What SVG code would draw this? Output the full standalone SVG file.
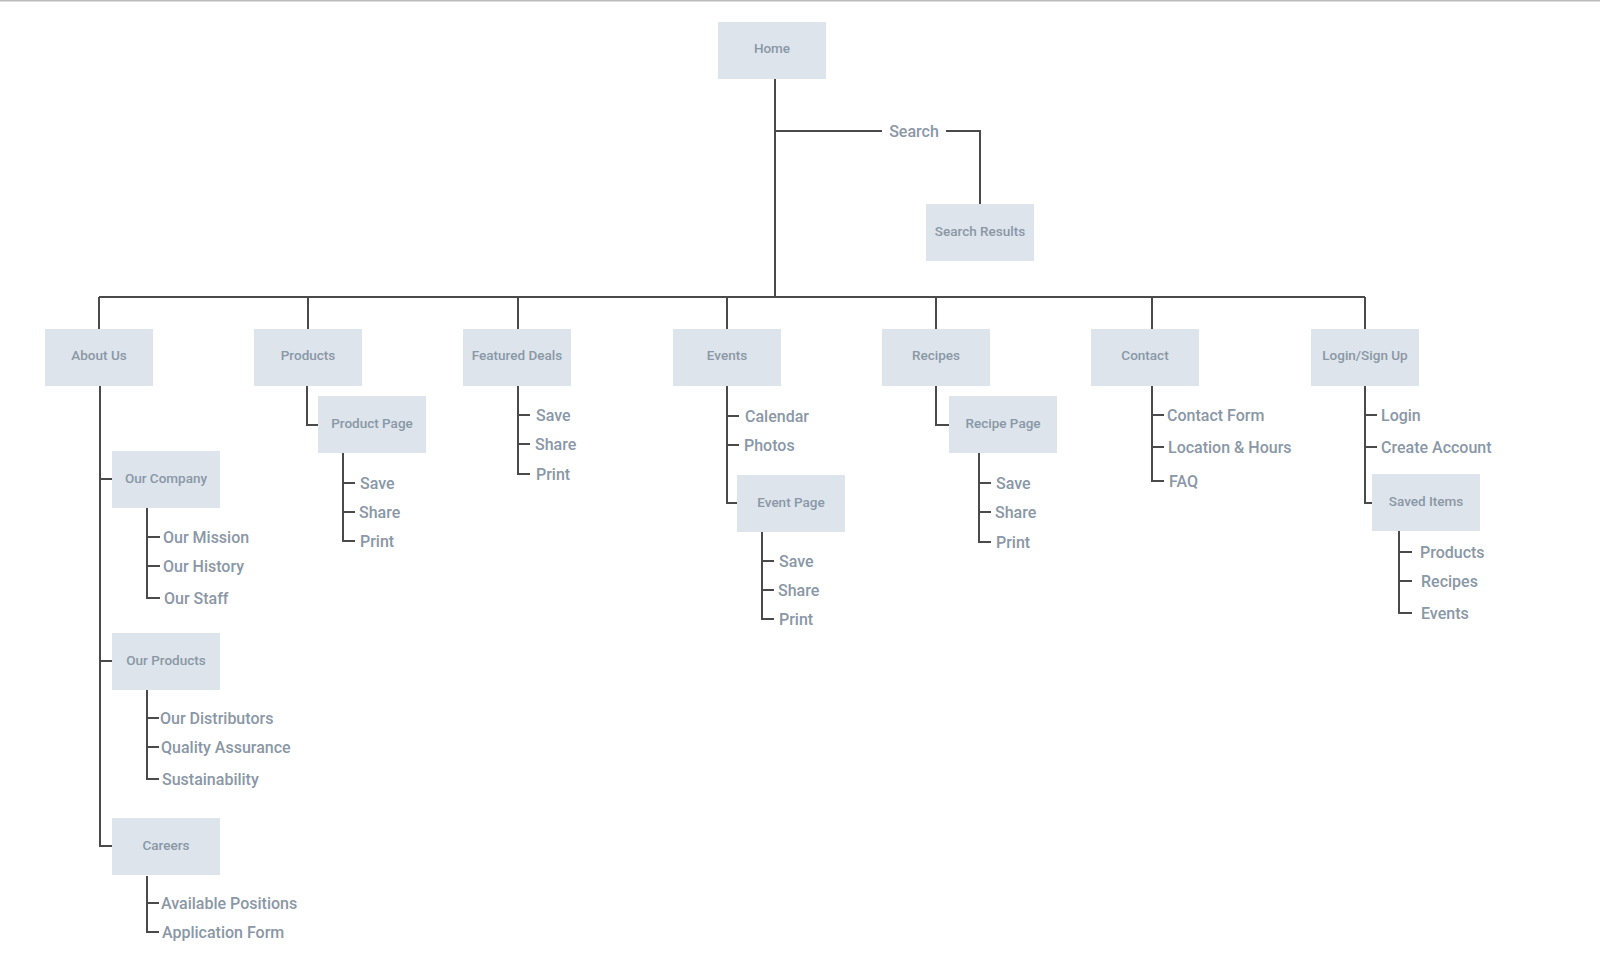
<svg xmlns="http://www.w3.org/2000/svg" width="1600" height="979" viewBox="0 0 1600 979">
<style>
.b{fill:#dde4eb}
.n{font-family:Roboto,"Liberation Sans",sans-serif;font-size:13.5px;font-weight:500;fill:#8a97a6;text-anchor:middle}
.l{font-family:Roboto,"Liberation Sans",sans-serif;font-size:16px;font-weight:500;fill:#8a97a6}
.c{fill:none;stroke:#4a4a4a;stroke-width:2}
</style>
<rect width="1600" height="979" fill="#fff"/>
<line x1="0" y1="0.5" x2="1600" y2="0.5" stroke="#bbb" stroke-width="2"/>
<g id="connectors" class="c">
<path d="M775 79V297M99 297H1365M99 297V329M308 297V329M518 297V329M727 297V329M936 297V329M1152 297V329M1365 297V329"/>
<path d="M775 131H882M946 131H980V204"/>
<path d="M307 386V425H318M343 453V541H355M343 483H355M343 512H355"/>
<path d="M518 386V474H530M518 415H530M518 444H530"/>
<path d="M727 386V503H737M727 416H739M727 445H739M762 532V619H774M762 561H774M762 590H774"/>
<path d="M936 386V425H949M979 453V542H991M979 483H991M979 512H991"/>
<path d="M1152 386V481H1164M1152 415H1164M1152 447H1164"/>
<path d="M1365 386V503H1372M1365 415H1377M1365 447H1377M1399 531V613H1412M1399 552H1412M1399 581H1412"/>
<path d="M100 386V846H112M100 479H112M100 661H112"/>
<path d="M147 508V598H160M147 537H160M147 566H160"/>
<path d="M147 690V779H159M147 718H159M147 747H159"/>
<path d="M147 876V932H159M147 903H159"/>
</g>
<g id="home"><rect class="b" x="718" y="22" width="108" height="57"/><text class="n" x="772" y="53">Home</text></g>
<g id="search"><text class="l" x="914" y="137" text-anchor="middle">Search</text></g>
<g id="searchresults"><rect class="b" x="926" y="204" width="108" height="57"/><text class="n" x="980" y="236">Search Results</text></g>
<g id="aboutus"><rect class="b" x="45" y="329" width="108" height="57"/><text class="n" x="99" y="360">About Us</text></g>
<g id="products"><rect class="b" x="254" y="329" width="108" height="57"/><text class="n" x="308" y="360">Products</text></g>
<g id="featured"><rect class="b" x="463" y="329" width="108" height="57"/><text class="n" x="517" y="360">Featured Deals</text></g>
<g id="events"><rect class="b" x="673" y="329" width="108" height="57"/><text class="n" x="727" y="360">Events</text></g>
<g id="recipes"><rect class="b" x="882" y="329" width="108" height="57"/><text class="n" x="936" y="360">Recipes</text></g>
<g id="contact"><rect class="b" x="1091" y="329" width="108" height="57"/><text class="n" x="1145" y="360">Contact</text></g>
<g id="login"><rect class="b" x="1311" y="329" width="108" height="57"/><text class="n" x="1365" y="360">Login/Sign Up</text></g>
<g id="productpage"><rect class="b" x="318" y="396" width="108" height="57"/><text class="n" x="372" y="428">Product Page</text></g>
<g id="recipepage"><rect class="b" x="949" y="396" width="108" height="57"/><text class="n" x="1003" y="428">Recipe Page</text></g>
<g id="eventpage"><rect class="b" x="737" y="475" width="108" height="57"/><text class="n" x="791" y="507">Event Page</text></g>
<g id="saveditems"><rect class="b" x="1372" y="474" width="108" height="57"/><text class="n" x="1426" y="506">Saved Items</text></g>
<g id="ourcompany"><rect class="b" x="112" y="451" width="108" height="57"/><text class="n" x="166" y="483">Our Company</text></g>
<g id="ourproducts"><rect class="b" x="112" y="633" width="108" height="57"/><text class="n" x="166" y="665">Our Products</text></g>
<g id="careers"><rect class="b" x="112" y="818" width="108" height="57"/><text class="n" x="166" y="850">Careers</text></g>
<g id="leaves">
<text class="l" x="360" y="489">Save</text><text class="l" x="359" y="518">Share</text><text class="l" x="360" y="547">Print</text>
<text class="l" x="536" y="421">Save</text><text class="l" x="535" y="450">Share</text><text class="l" x="536" y="480">Print</text>
<text class="l" x="745" y="422">Calendar</text><text class="l" x="744" y="451">Photos</text>
<text class="l" x="779" y="567">Save</text><text class="l" x="778" y="596">Share</text><text class="l" x="779" y="625">Print</text>
<text class="l" x="996" y="489">Save</text><text class="l" x="995" y="518">Share</text><text class="l" x="996" y="548">Print</text>
<text class="l" x="1167" y="421">Contact Form</text><text class="l" x="1168" y="453">Location &amp; Hours</text><text class="l" x="1169" y="487">FAQ</text>
<text class="l" x="1381" y="421">Login</text><text class="l" x="1381" y="453">Create Account</text>
<text class="l" x="1420" y="558">Products</text><text class="l" x="1421" y="587">Recipes</text><text class="l" x="1421" y="619">Events</text>
<text class="l" x="163" y="543">Our Mission</text><text class="l" x="163" y="572">Our History</text><text class="l" x="164" y="604">Our Staff</text>
<text class="l" x="160" y="724">Our Distributors</text><text class="l" x="161" y="753">Quality Assurance</text><text class="l" x="162" y="785">Sustainability</text>
<text class="l" x="161" y="909">Available Positions</text><text class="l" x="162" y="938">Application Form</text>
</g>
</svg>
